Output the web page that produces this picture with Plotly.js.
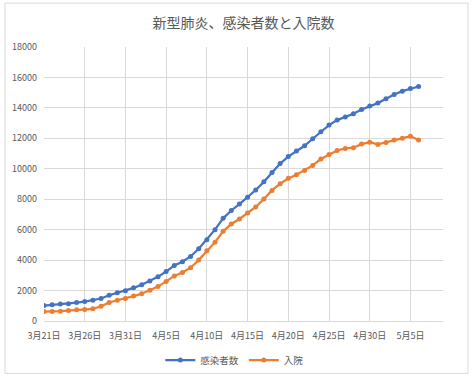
<!DOCTYPE html>
<html>
<head>
<meta charset="utf-8">
<script src="https://cdn.plot.ly/plotly-3.0.1.min.js"></script>
<style>
html,body{margin:0;padding:0;background:#fff;}
#chart{width:474px;height:379px;}
</style>
</head>
<body>
<div id="chart"></div>
<script>
const dates = [
  '2020-03-21','2020-03-22','2020-03-23','2020-03-24','2020-03-25','2020-03-26','2020-03-27','2020-03-28','2020-03-29','2020-03-30','2020-03-31',
  '2020-04-01','2020-04-02','2020-04-03','2020-04-04','2020-04-05','2020-04-06','2020-04-07','2020-04-08','2020-04-09','2020-04-10',
  '2020-04-11','2020-04-12','2020-04-13','2020-04-14','2020-04-15','2020-04-16','2020-04-17','2020-04-18','2020-04-19','2020-04-20',
  '2020-04-21','2020-04-22','2020-04-23','2020-04-24','2020-04-25','2020-04-26','2020-04-27','2020-04-28','2020-04-29','2020-04-30',
  '2020-05-01','2020-05-02','2020-05-03','2020-05-04','2020-05-05','2020-05-06'
];
const infected = [
  1017,1060,1110,1126,1214,1279,1367,1476,1693,1850,1990,
  2180,2380,2630,2900,3250,3650,3890,4240,4750,5340,
  6000,6745,7260,7680,8135,8607,9140,9760,10340,10800,
  11170,11513,11972,12431,12871,13199,13396,13612,13894,14117,
  14314,14596,14878,15101,15272,15404
];
const hospitalized = [
  623,623,643,689,735,754,800,971,1213,1364,1480,
  1640,1790,2020,2260,2600,2960,3180,3500,4000,4620,
  5180,5890,6374,6702,7096,7490,8015,8580,9020,9370,
  9610,9893,10221,10640,10942,11204,11336,11382,11620,11750,
  11598,11730,11890,12000,12135,11890
];
const seriesNames = ['感染者数','入院'];
const chartTitle = '新型肺炎、感染者数と入院数';

const font = '"Noto Sans CJK JP", "Noto Sans", sans-serif';

const traces = [
  {x: dates, y: infected, name: seriesNames[0], type: 'scatter', mode: 'lines+markers',
   line: {color: '#4472C4', width: 2.25}, marker: {color: '#4472C4', size: 5}},
  {x: dates, y: hospitalized, name: seriesNames[1], type: 'scatter', mode: 'lines+markers',
   line: {color: '#ED7D31', width: 2.25}, marker: {color: '#ED7D31', size: 5}}
];

const PH = 274.5; // plot height in px
const PW = 399;   // plot width in px

const layout = {
  width: 474, height: 379,
  margin: {l: 44, r: 31, t: 47, b: 57.5, autoexpand: false},
  paper_bgcolor: '#ffffff', plot_bgcolor: '#ffffff',
  font: {family: font, color: '#595959', size: 9},
  title: {text: chartTitle, x: 0.5, xanchor: 'center', xref: 'paper', yref: 'container', y: 1 - 23/379, yanchor: 'middle',
          font: {family: font, size: 14, color: '#595959'}},
  showlegend: true,
  legend: {orientation: 'h', x: 0.477, xanchor: 'center', yref: 'container', y: 1 - 360/379, yanchor: 'middle',
           font: {family: font, size: 9.5, color: '#595959'}, itemwidth: 30, bgcolor: 'rgba(0,0,0,0)'},
  hovermode: false,
  xaxis: {
    type: 'date', range: ['2020-03-21', '2020-05-09'],
    tick0: '2020-03-21', dtick: 5 * 86400000, tickformat: '%-m月%-d日',
    showgrid: true, gridcolor: '#d9d9d9', gridwidth: 1,
    showline: true, linecolor: '#d9d9d9', linewidth: 1,
    ticks: '', ticklabelstandoff: 6, zeroline: false, automargin: false,
    tickfont: {family: font, size: 9, color: '#595959'}
  },
  yaxis: {
    range: [0, 18000], dtick: 2000, tick0: 0,
    showgrid: true, gridcolor: '#d9d9d9', gridwidth: 1,
    showline: false, zeroline: false, ticks: '', ticklabelstandoff: 6, automargin: false,
    tickformat: 'd',
    tickfont: {family: font, size: 9, color: '#595959'}
  },
  shapes: [
    {type: 'rect', xref: 'paper', yref: 'paper', layer: 'below',
     x0: -39/PW, x1: 424/PW, y0: -52.5/PH, y1: 1 + 44/PH,
     line: {color: '#d9d9d9', width: 1}, fillcolor: 'rgba(0,0,0,0)'}
  ]
};

Plotly.newPlot('chart', traces, layout, {displayModeBar: false, staticPlot: true});
</script>
</body>
</html>
